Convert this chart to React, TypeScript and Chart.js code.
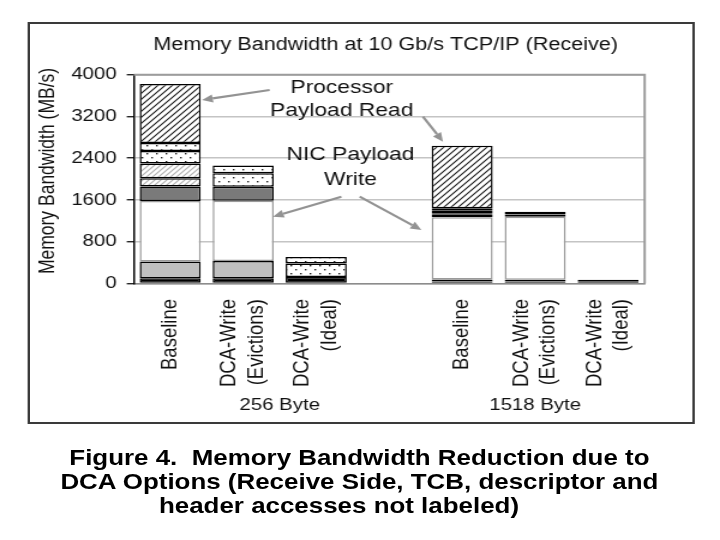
import React, { useEffect, useRef } from 'react';
import { Chart, registerables } from 'chart.js';

Chart.register(...registerables);

// ---------- data ----------
const categoryLines: string[][] = [
  ['Baseline'],
  ['DCA-Write', '(Evictions)'],
  ['DCA-Write', '(Ideal)'],
  [],
  ['Baseline'],
  ['DCA-Write', '(Evictions)'],
  ['DCA-Write', '(Ideal)'],
];
const groupLabels = ['256 Byte', '1518 Byte'];
const groupCenters = [1.5, 5]; // category index positions of the group labels
const yMin = 0;
const yMax = 4000;
const yStep = 800;
const chartTitle = 'Memory Bandwidth at 10 Gb/s TCP/IP (Receive)';
const yAxisTitle = 'Memory Bandwidth (MB/s)';
const captionLines = [
  'Figure 4.  Memory Bandwidth Reduction due to',
  'DCA Options (Receive Side, TCB, descriptor and',
  'header accesses not labeled)',
];

// segment heights (MB/s), bottom to top
const segBlack = [100, 100, 125, null, 40, 40, 15];
const segLightGray = [320, 330, null, null, 35, 30, null];
const segNicWrite = [1160, 1155, null, null, 1195, 1210, null];
const segDarkGray = [280, 270, null, null, 45, 40, null];
const segLightHatchA = [155, null, null, null, 30, null, null];
const segLightHatchB = [285, null, null, null, 25, null, null];
const segDottedA = [240, 255, 260, null, 25, 30, 30];
const segDottedB = [150, 150, 125, null, 45, 26, 25];
const segProcRead = [1130, null, null, null, 1200, null, null];

// annotation texts
const annoTexts = [
  ['Processor', 'Payload Read'],
  ['NIC Payload', 'Write'],
];

// ---------- layout ----------
const SX = 1.2; // horizontal stretch of the whole figure
const FAMILY = '"Liberation Sans", Arial, Helvetica, sans-serif';
const font = (size: number, weight = 'normal') => `${weight} ${size}px ${FAMILY}`;

const annoAnchors = [
  { x: 2.35, ys: [3755, 3305] },
  { x: 2.47, ys: [2462, 1993] },
];
const annoArrows = [
  [1.363, 3707, 0.436, 3515],
  [3.463, 3196, 3.737, 2717],
  [2.345, 1663, 1.408, 1280],
  [2.596, 1663, 3.441, 1025],
];

function makePattern(kind: string): CanvasPattern | string {
  const c = document.createElement('canvas');
  const ctx = c.getContext('2d');
  if (!ctx) return '#fff';
  if (kind === 'darkHatch' || kind === 'lightHatch') {
    const s = kind === 'darkHatch' ? 6 : 5;
    c.width = s;
    c.height = s;
    ctx.fillStyle = '#fff';
    ctx.fillRect(0, 0, s, s);
    ctx.strokeStyle = kind === 'darkHatch' ? '#1a1a1a' : '#b0b0b0';
    ctx.lineWidth = kind === 'darkHatch' ? 1.1 : 1.2;
    ctx.beginPath();
    ctx.moveTo(-1, s + 1);
    ctx.lineTo(s + 1, -1);
    ctx.moveTo(-1, 1);
    ctx.lineTo(1, -1);
    ctx.moveTo(s - 1, s + 1);
    ctx.lineTo(s + 1, s - 1);
    ctx.stroke();
  } else {
    c.width = 8;
    c.height = 8;
    ctx.fillStyle = '#fff';
    ctx.fillRect(0, 0, 8, 8);
    ctx.fillStyle = '#222';
    ctx.fillRect(1, 1, 1.4, 1.4);
    ctx.fillRect(5, 5, 1.4, 1.4);
  }
  return ctx.createPattern(c, 'repeat') || '#fff';
}

function drawArrow(ctx: CanvasRenderingContext2D, x1: number, y1: number, x2: number, y2: number) {
  const ang = Math.atan2(y2 - y1, x2 - x1);
  const hl = 9;
  const hw = 4;
  const bx = x2 - hl * Math.cos(ang);
  const by = y2 - hl * Math.sin(ang);
  ctx.beginPath();
  ctx.moveTo(x1, y1);
  ctx.lineTo(bx, by);
  ctx.stroke();
  ctx.beginPath();
  ctx.moveTo(x2, y2);
  ctx.lineTo(bx + hw * Math.sin(ang), by - hw * Math.cos(ang));
  ctx.lineTo(bx - hw * Math.sin(ang), by + hw * Math.cos(ang));
  ctx.closePath();
  ctx.fill();
}

const overlayPlugin = {
  id: 'overlay',
  afterDraw(chart: any) {
    const { ctx, chartArea: a, scales } = chart;
    const xs = scales.x;
    const ys = scales.y;
    ctx.save();
    // plot frame (top, right)
    ctx.strokeStyle = '#9c9c9c';
    ctx.lineWidth = 2;
    ctx.beginPath();
    ctx.moveTo(a.left, a.top);
    ctx.lineTo(a.right, a.top);
    ctx.lineTo(a.right, a.bottom);
    ctx.stroke();

    ctx.fillStyle = '#111';
    // title
    ctx.font = font(18);
    ctx.textAlign = 'center';
    ctx.textBaseline = 'middle';
    ctx.fillText(chartTitle, 296.4, 21);

    // y axis title
    ctx.save();
    ctx.translate(14.7, 147);
    ctx.rotate(-Math.PI / 2);
    ctx.font = font(17.5);
    ctx.fillText(yAxisTitle, 0, 0);
    ctx.restore();

    // category labels (rotated)
    const lh = 22.5;
    ctx.font = font(18.5);
    categoryLines.forEach((lines, i) => {
      if (!lines.length) return;
      const px = xs.getPixelForValue(i);
      ctx.save();
      ctx.translate(px, a.bottom + 15.5);
      ctx.rotate(-Math.PI / 2);
      ctx.textAlign = 'right';
      ctx.textBaseline = 'middle';
      lines.forEach((ln, j) => {
        ctx.fillText(ln, 0, (j - (lines.length - 1) / 2) * lh);
      });
      ctx.restore();
    });

    // group labels
    ctx.font = font(17);
    ctx.textAlign = 'center';
    ctx.textBaseline = 'middle';
    groupLabels.forEach((g, i) => {
      ctx.fillText(g, xs.getPixelForValue(groupCenters[i]), 381);
    });

    // arrows
    ctx.strokeStyle = '#939393';
    ctx.fillStyle = '#939393';
    ctx.lineWidth = 2.2;
    annoArrows.forEach(([i1, v1, i2, v2]) => {
      drawArrow(ctx, xs.getPixelForValue(i1), ys.getPixelForValue(v1), xs.getPixelForValue(i2), ys.getPixelForValue(v2));
    });

    // annotation texts
    ctx.fillStyle = '#111';
    ctx.font = font(19);
    ctx.textAlign = 'center';
    ctx.textBaseline = 'middle';
    annoTexts.forEach((lines, k) => {
      const an = annoAnchors[k];
      lines.forEach((ln, j) => {
        ctx.fillText(ln, xs.getPixelForValue(an.x), ys.getPixelForValue(an.ys[j]));
      });
    });
    ctx.restore();
  },
};

export default function App() {
  const ref = useRef<HTMLCanvasElement | null>(null);

  useEffect(() => {
    if (!ref.current) return;
    const darkHatch = makePattern('darkHatch');
    const lightHatch = makePattern('lightHatch');
    const dots = makePattern('dots');
    const mk = (label: string, data: (number | null)[], bg: any, border = '#000') => ({
      label,
      data,
      backgroundColor: bg,
      borderColor: border,
      borderWidth: 1.5,
      borderSkipped: false,
    });
    const chart = new Chart(ref.current, {
      type: 'bar',
      data: {
        labels: categoryLines.map((l) => l.join(' ')),
        datasets: [
          mk('Descriptor', segBlack, '#000'),
          mk('Other A', segLightGray, '#c0c0c0'),
          mk('NIC Payload Write', segNicWrite, '#fff', '#9a9a9a'),
          mk('Other B', segDarkGray, '#7a7a7a'),
          mk('Other C', segLightHatchA, lightHatch),
          mk('Other D', segLightHatchB, lightHatch),
          mk('Other E', segDottedA, dots),
          mk('Other F', segDottedB, dots),
          mk('Processor Payload Read', segProcRead, darkHatch),
        ] as any,
      },
      options: {
        responsive: false,
        animation: false,
        layout: { padding: { top: 50.7, right: 38.8, left: 0, bottom: 0 } },
        datasets: { bar: { categoryPercentage: 1, barPercentage: 0.836 } } as any,
        plugins: {
          legend: { display: false },
          tooltip: { enabled: false },
          title: { display: false },
        },
        scales: {
          x: {
            type: 'category',
            stacked: true,
            offset: true,
            grid: { display: false, drawTicks: false },
            border: { display: true, color: '#8c8c8c', width: 1.5 },
            ticks: { display: false },
            afterFit: (s: any) => {
              s.height = 138.5;
            },
          },
          y: {
            stacked: true,
            min: yMin,
            max: yMax,
            ticks: {
              stepSize: yStep,
              color: '#111',
              font: { size: 17, family: FAMILY },
              padding: 8.4,
              callback: (v: any) => String(v),
            },
            grid: {
              color: '#c4c4c4',
              lineWidth: 1.5,
              tickLength: 5.8,
              tickColor: '#000',
              tickWidth: 1.2,
            },
            border: { display: true, color: '#000', width: 1.5 },
            afterFit: (s: any) => {
              s.width = 86.4;
            },
          },
        },
      } as any,
      plugins: [overlayPlugin],
    });
    return () => chart.destroy();
  }, []);

  return (
    <div
      style={{
        position: 'absolute',
        left: 0,
        top: 0,
        width: 599,
        height: 540,
        transform: `scaleX(${SX})`,
        transformOrigin: '0 0',
        fontFamily: FAMILY,
        color: '#000',
      }}
    >
      <div
        style={{
          position: 'absolute',
          left: 23.3,
          top: 22,
          width: 555.8,
          height: 402,
          border: '2px solid #3a3a3a',
          boxSizing: 'border-box',
          background: '#fff',
        }}
      >
        <canvas ref={ref} width={551} height={398} style={{ display: 'block' }} />
      </div>
      <div
        style={{
          position: 'absolute',
          left: 0,
          top: 446,
          width: 599,
          textAlign: 'center',
          fontWeight: 'bold',
          fontSize: 21.6,
          lineHeight: '24px',
          whiteSpace: 'pre',
        }}
      >
        {captionLines.map((l, i) => (
          <div key={i} style={{ position: 'relative', left: i === 2 ? -17 : 0 }}>
            {l}
          </div>
        ))}
      </div>
    </div>
  );
}
